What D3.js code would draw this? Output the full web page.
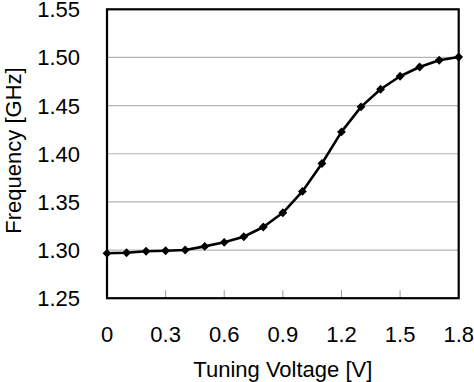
<!DOCTYPE html>
<html><head><meta charset="utf-8">
<script src="https://cdn.jsdelivr.net/npm/d3@7"></script>
<style>html,body{margin:0;padding:0;background:#fff;}svg{display:block;}</style>
</head><body>
<script>
const voltage = [0,0.1,0.2,0.3,0.4,0.5,0.6,0.7,0.8,0.9,1.0,1.1,1.2,1.3,1.4,1.5,1.6,1.7,1.8];
const frequency = [1.2966,1.2972,1.2987,1.2993,1.3000,1.3038,1.3080,1.3138,1.3239,1.3387,1.3609,1.3899,1.4227,1.4487,1.4670,1.4805,1.4901,1.4971,1.5005];
const xTicks = [0,0.3,0.6,0.9,1.2,1.5,1.8];
const yTicks = [1.25,1.30,1.35,1.40,1.45,1.50,1.55];
const xLabel = "Tuning Voltage [V]";
const yLabel = "Frequency [GHz]";

const W=474,H=382;
const L=107,R=458.7,T=9.3,B=298.2;
const svg=d3.select("body").append("svg").attr("width",W).attr("height",H);
const x=d3.scaleLinear().domain([0,1.8]).range([L,R]);
const y=d3.scaleLinear().domain([1.25,1.55]).range([B,T]);
const font="'Liberation Sans', Arial, sans-serif";
const fs=22;

// gridlines
svg.append("g").selectAll("line").data(yTicks.slice(1,-1)).join("line")
 .attr("x1",L).attr("x2",R).attr("y1",d=>y(d)).attr("y2",d=>y(d))
 .attr("stroke","#b4b4b4").attr("stroke-width",1.2);

// x ticks inside
svg.append("g").selectAll("line").data(xTicks.slice(1,-1)).join("line")
 .attr("x1",d=>x(d)).attr("x2",d=>x(d)).attr("y1",B).attr("y2",B-8)
 .attr("stroke","#999").attr("stroke-width",1);

// frame
svg.append("rect").attr("x",L).attr("y",T).attr("width",R-L).attr("height",B-T)
 .attr("fill","none").attr("stroke","#000").attr("stroke-width",2.2);

// y tick labels
svg.append("g").selectAll("text").data(yTicks).join("text")
 .attr("x",80).attr("y",d=>y(d)).attr("dy","0.36em").attr("text-anchor","end")
 .attr("font-family",font).attr("font-size",fs).attr("fill","#000")
 .text(d=>d3.format(".2f")(d));

// x tick labels
svg.append("g").selectAll("text").data(xTicks).join("text")
 .attr("x",d=>x(d)).attr("y",342).attr("text-anchor","middle")
 .attr("font-family",font).attr("font-size",fs).attr("fill","#000")
 .text(d=>d===0?"0":d3.format(".1f")(d));

// axis titles
svg.append("text").attr("x",(L+R)/2).attr("y",376.5).attr("text-anchor","middle")
 .attr("font-family",font).attr("font-size",fs).attr("fill","#000").text(xLabel);
svg.append("text").attr("transform",`translate(21,150.5) rotate(-90)`)
 .attr("text-anchor","middle")
 .attr("font-family",font).attr("font-size",fs).attr("fill","#000").text(yLabel);

// line
const data=voltage.map((v,i)=>({v,f:frequency[i]}));
svg.append("path").datum(data)
 .attr("d",d3.line().x(d=>x(d.v)).y(d=>y(d.f)))
 .attr("fill","none").attr("stroke","#000").attr("stroke-width",2.6).attr("stroke-linejoin","round");

// markers
svg.append("g").selectAll("path").data(data).join("path")
 .attr("transform",d=>`translate(${x(d.v)},${y(d.f)})`)
 .attr("d",d3.symbol(d3.symbolDiamond2,50)())
 .attr("fill","#000");
</script>
</body></html>
